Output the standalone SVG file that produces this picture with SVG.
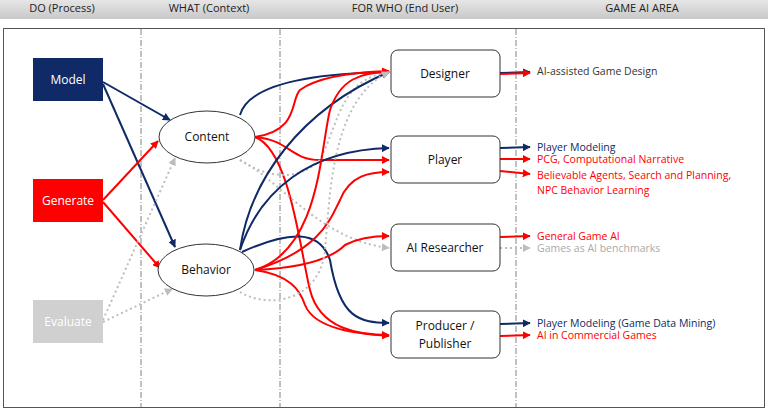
<svg xmlns="http://www.w3.org/2000/svg" width="768" height="409" viewBox="0 0 768 409">
<style>
.hd{font-family:"Open Sans","Liberation Sans",sans-serif;font-size:11px;fill:#222;text-anchor:middle}
.nt{font-family:"Open Sans","Liberation Sans",sans-serif;font-size:12px;text-anchor:middle}
.rt{font-family:"Open Sans","Liberation Sans",sans-serif;font-size:10.5px}
.box{fill:#fff;stroke:#333;stroke-width:1}
.n{fill:none;stroke:#0f2a66;stroke-width:2;marker-end:url(#an)}
.r{fill:none;stroke:#ff0000;stroke-width:2;marker-end:url(#ar)}
.g{fill:none;stroke:#bdbdbd;stroke-width:2;stroke-dasharray:2 3;marker-end:url(#ag)}
.sep{stroke:#666;stroke-width:0.8;stroke-dasharray:6 2 1 2}
</style>
<defs>
<linearGradient id="hg" x1="0" y1="0" x2="0" y2="1"><stop offset="0" stop-color="#e6e6e6"/><stop offset="1" stop-color="#c8c8c8"/></linearGradient>
<marker id="an" viewBox="0 0 10 10" refX="9" refY="5" markerWidth="4" markerHeight="4" orient="auto"><path d="M0,0L10,5L0,10z" fill="#0f2a66"/></marker>
<marker id="ar" viewBox="0 0 10 10" refX="9" refY="5" markerWidth="4" markerHeight="4" orient="auto"><path d="M0,0L10,5L0,10z" fill="#ff0000"/></marker>
<marker id="ag" viewBox="0 0 10 10" refX="9" refY="5" markerWidth="4" markerHeight="4" orient="auto"><path d="M0,0L10,5L0,10z" fill="#bdbdbd"/></marker>
</defs>
<rect x="0" y="0" width="768" height="19" fill="url(#hg)"/>
<text class="hd" x="62" y="12">DO (Process)</text>
<text class="hd" x="209" y="12">WHAT (Context)</text>
<text class="hd" x="405" y="12">FOR WHO (End User)</text>
<text class="hd" x="642" y="12">GAME AI AREA</text>
<rect x="3.5" y="28.5" width="761" height="379" fill="#fff" stroke="#555" stroke-width="1"/>
<line class="sep" x1="141" y1="29" x2="141" y2="407"/>
<line class="sep" x1="280" y1="29" x2="280" y2="407"/>
<line class="sep" x1="516" y1="29" x2="516" y2="407"/>
<g id="connectors">
<path class="n" d="M103,82 L170,120"/>
<path class="n" d="M103,84 L175,247"/>
<path class="r" d="M103,200 L158,141"/>
<path class="r" d="M103,202 L160,268"/>
<path class="g" d="M103,320 L175,158"/>
<path class="g" d="M103,322 L172,289"/>
<path class="n" d="M240,115 C250,80 330,73 389,72"/>
<path class="r" d="M255,137 C300,130 290,100 300,90 C320,75 360,72 389,71"/>
<path class="r" d="M255,137 C290,140 290,160 320,160 C350,160 370,160 389,160"/>
<path class="r" d="M255,137 C290,150 300,250 310,290 C320,330 360,335 389,335"/>
<path class="g" d="M240,160 C280,180 320,240 389,248"/>
<path class="g" d="M240,160 C270,180 300,180 320,160 C340,120 340,80 389,72"/>
<path class="n" d="M240,250 C250,180 300,110 389,72"/>
<path class="n" d="M240,250 C260,190 310,150 389,148"/>
<path class="n" d="M242,252 C290,230 320,230 330,260 C340,320 360,322 389,323"/>
<path class="r" d="M255,270 C320,250 320,150 330,110 C340,80 360,72 389,72"/>
<path class="r" d="M255,270 C320,250 330,220 340,200 C350,175 370,172 389,172"/>
<path class="r" d="M255,270 C300,268 330,260 345,245 C360,237 375,236 389,236"/>
<path class="r" d="M255,270 C290,275 300,290 305,305 C315,330 360,334 389,336"/>
<path class="g" d="M240,292 C270,310 320,300 325,250 C330,200 330,100 389,72"/>
<path class="n" d="M500,73 L530,72"/>
<path class="r" d="M500,74 L530,73"/>
<path class="n" d="M500,148 L530,147"/>
<path class="r" d="M500,159 L530,159"/>
<path class="r" d="M500,171 L530,174"/>
<path class="r" d="M500,237 L530,236"/>
<path class="g" d="M500,248 L530,248"/>
<path class="n" d="M500,324 L530,323"/>
<path class="r" d="M500,336 L530,335"/>
</g>
<g id="model"><rect x="33" y="58" width="70" height="43" fill="#0f2a66"/><text class="nt" x="68" y="84" fill="#fff">Model</text></g>
<g id="generate"><rect x="33" y="179" width="70" height="43" fill="#ff0000"/><text class="nt" x="68" y="205" fill="#fff">Generate</text></g>
<g id="evaluate"><rect x="33" y="300" width="70" height="43" fill="#d0d0d0"/><text class="nt" x="68" y="326" fill="#fff">Evaluate</text></g>
<g id="content"><ellipse class="box" cx="207" cy="137" rx="48" ry="26"/><text class="nt" x="207" y="141" fill="#111">Content</text></g>
<g id="behavior"><ellipse class="box" cx="206" cy="270" rx="48" ry="26"/><text class="nt" x="206" y="274" fill="#111">Behavior</text></g>
<g id="designer"><rect class="box" x="391" y="50" width="109" height="47" rx="7"/><text class="nt" x="445" y="78" fill="#111">Designer</text></g>
<g id="player"><rect class="box" x="391" y="136" width="109" height="47" rx="7"/><text class="nt" x="445" y="164" fill="#111">Player</text></g>
<g id="airesearcher"><rect class="box" x="391" y="224" width="109" height="47" rx="7"/><text class="nt" x="445" y="252" fill="#111">AI Researcher</text></g>
<g id="producer"><rect class="box" x="391" y="311" width="109" height="47" rx="7"/><text class="nt" x="445" y="330" fill="#111">Producer /</text><text class="nt" x="445" y="348" fill="#111">Publisher</text></g>
<g id="areas">
<text class="rt" x="537" y="75" fill="#333">AI-assisted Game Design</text>
<text class="rt" x="537" y="151" fill="#0f2a66">Player Modeling</text>
<text class="rt" x="537" y="163" fill="#ff0000">PCG, Computational Narrative</text>
<text class="rt" x="537" y="179" fill="#ff0000">Believable Agents, Search and Planning,</text>
<text class="rt" x="537" y="194" fill="#ff0000">NPC Behavior Learning</text>
<text class="rt" x="537" y="240" fill="#ff0000">General Game AI</text>
<text class="rt" x="537" y="252" fill="#aaa">Games as AI benchmarks</text>
<text class="rt" x="537" y="327" fill="#0f2a66">Player Modeling (Game Data Mining)</text>
<text class="rt" x="537" y="339" fill="#ff0000">AI in Commercial Games</text>
</g>
</svg>
